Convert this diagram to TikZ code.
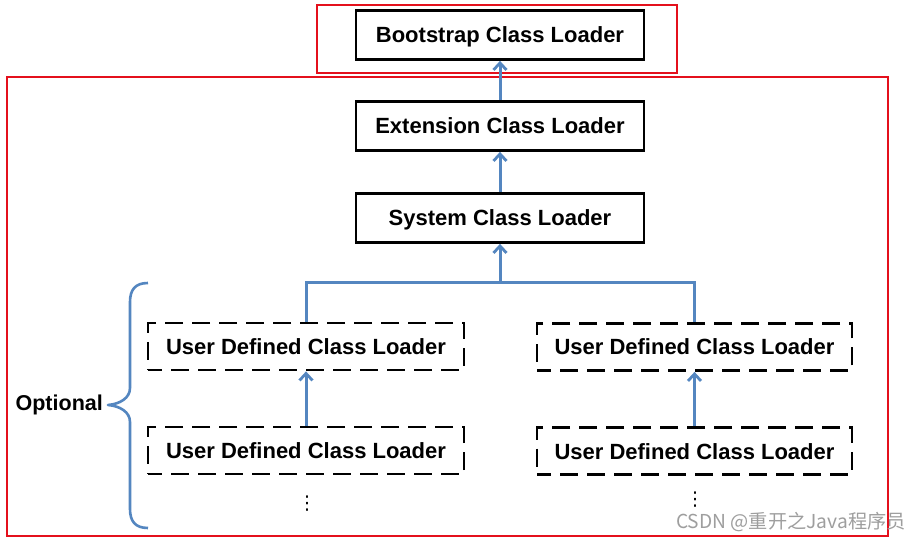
\documentclass[tikz,border=0pt]{standalone}
\usepackage{fontspec}
\setmainfont{Liberation Sans}
\newfontfamily\cjk{Noto Sans CJK SC}
\newfontfamily\dejavu{DejaVu Sans}
\usetikzlibrary{arrows.meta}
\definecolor{arrblue}{RGB}{84,134,192}
\definecolor{frame}{RGB}{228,16,28}
\tikzset{
  solidbox/.style={draw=black, line width=2.8pt, minimum width=288pt, minimum height=49pt, inner sep=0pt, text height=16pt, text depth=0pt, font=\fontsize{22}{24}\selectfont\bfseries},
  dashbox/.style={draw=black, line width=2.8pt, dash pattern=on 18pt off 9pt, dash phase=4pt, minimum height=47pt, inner sep=0pt, text height=16pt, text depth=0pt, font=\fontsize{22}{24}\selectfont\bfseries},
  conn/.style={draw=arrblue, line width=3pt},
  uparrow/.style={conn, -{Straight Barb[length=7pt,width=13pt,line width=2.8pt]}},
  redframe/.style={draw=frame, line width=1.6pt},
  dotsnode/.style={font=\dejavu\fontsize{19}{19}\selectfont, inner sep=0pt},
}
\begin{document}
\begin{tikzpicture}[x=1pt,y=-1pt]
\useasboundingbox (0,0) rectangle (922,540);
\fill[white] (0,0) rectangle (922,540);
% frames
\draw[redframe] (317,5) rectangle (677,73);
\draw[redframe] (7,77) rectangle (888,536);
% main chain
\node[solidbox] (boot) at (500,35) {Bootstrap Class Loader};
\node[solidbox] (ext) at (500,126) {Extension Class Loader};
\node[solidbox] (sys) at (500,218) {System Class Loader};
% user defined
\node[dashbox, minimum width=316pt] (ul1) at (306,346.5) {User Defined Class Loader};
\node[dashbox, minimum width=316pt] (ul2) at (306,450.5) {User Defined Class Loader};
\node[dashbox, minimum width=315pt] (ur1) at (694.5,347) {User Defined Class Loader};
\node[dashbox, minimum width=315pt] (ur2) at (694.5,451) {User Defined Class Loader};
% dots
\node[dotsnode] (dl) at (307,504) {⋮};
\node[dotsnode] (dr) at (695,500) {⋮};
% connectors
\draw[uparrow] (ext.north) -- (boot.south);
\draw[uparrow] (sys.north) -- (ext.south);
\coordinate (j) at (500,283);
\draw[conn] (ul1.north) |- (j) -| (ur1.north);
\draw[uparrow] (j) -- (sys.south);
\draw[uparrow] (ul2.north) -- (ul1.south);
\draw[uparrow] (ur2.north) -- (ur1.south);
% brace
\node[font=\fontsize{21.5}{24}\selectfont\bfseries, anchor=east, inner sep=0pt] (opt) at (103,405) {Optional};
\coordinate (tip) at (108,405);
\draw[conn, line width=2.6pt, line join=round]
  (148,283) .. controls (135,283) and (130,290) .. (130,302)
  -- (130,388) .. controls (130,398) and (120,404) .. (tip)
  .. controls (120,406) and (130,412) .. (130,422)
  -- (130,509) .. controls (130,521) and (135,528) .. (148,528);
% watermark
\node[anchor=west, font=\cjk\fontsize{19.2}{20}\selectfont, text=black!38, inner sep=0pt] (wm) at (676,522) {CSDN @重开之Java程序员};
\end{tikzpicture}
\end{document}
